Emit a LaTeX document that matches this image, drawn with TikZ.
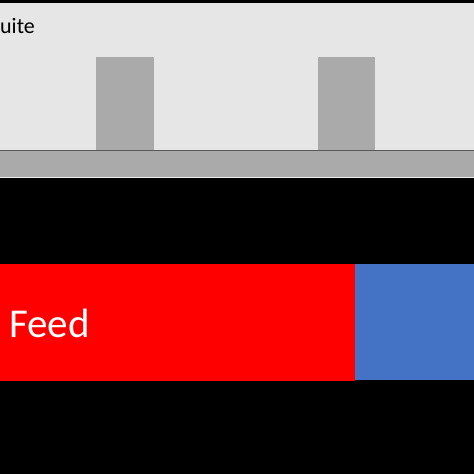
\documentclass[tikz,border=0pt]{standalone}
\usepackage{fontspec}
\setmainfont{Carlito}
\definecolor{panel}{HTML}{E6E6E6}
\definecolor{pillar}{HTML}{AAAAAA}
\definecolor{redfeed}{HTML}{FF0000}
\definecolor{bluebox}{HTML}{4472C4}
\begin{document}
\begin{tikzpicture}[x=1pt,y=-1pt]
\tikzset{blockfill/.style={draw=none}}
\useasboundingbox (0,0) rectangle (474,474);
\fill[black] (0,0) rectangle (474,474);
\fill[panel] (0,3) rectangle (474,150);
\fill[pillar] (96,57) rectangle (154,150);
\fill[pillar] (318,57) rectangle (375,150);
\fill[pillar] (0,150) rectangle (474,178);
\draw[gray!70!black, line width=0.8pt] (0,150.5) -- (474,150.5);
\draw[white!85!gray, line width=0.8pt] (0,177.5) -- (474,177.5);
\fill[redfeed] (0,264) rectangle (355,381);
\fill[bluebox] (355,264) rectangle (474,380);
\node[anchor=base west, inner sep=0pt, font=\fontsize{22}{26}\selectfont] (suite) at (0,33) {uite};
\node[anchor=base west, inner sep=0pt, text=white, font=\fontsize{41}{48}\selectfont] (feed) at (9,337) {Feed};
\end{tikzpicture}
\end{document}
